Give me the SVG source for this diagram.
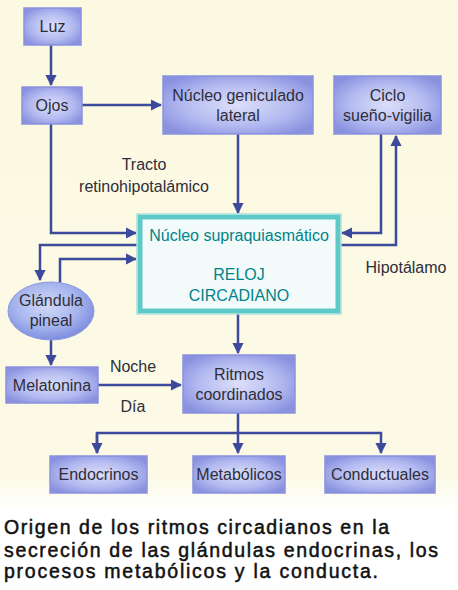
<svg xmlns="http://www.w3.org/2000/svg" width="458" height="590" viewBox="0 0 458 590">
<defs>
<radialGradient id="boxg" cx="50%" cy="50%" r="60%">
<stop offset="0" stop-color="#dcdff9"/>
<stop offset="0.6" stop-color="#b4baf0"/>
<stop offset="1" stop-color="#8a92e0"/>
</radialGradient>
<radialGradient id="ellg" cx="45%" cy="40%" r="60%">
<stop offset="0" stop-color="#d2daf8"/>
<stop offset="0.6" stop-color="#a8b6ee"/>
<stop offset="1" stop-color="#7e8ede"/>
</radialGradient>
<linearGradient id="bgg" x1="0" y1="0" x2="0" y2="1">
<stop offset="0" stop-color="#fcf9e2"/>
<stop offset="0.93" stop-color="#fcfae6"/>
<stop offset="1" stop-color="#ffffff"/>
</linearGradient>
<marker id="ah" viewBox="0 0 10 10" refX="9" refY="5" markerWidth="4.5" markerHeight="4.5" orient="auto" markerUnits="strokeWidth">
<path d="M0,0 L10,5 L0,10 z" fill="#3c4a9c"/>
</marker>
</defs>
<style>
.box{fill:url(#boxg);stroke:#8a92de;stroke-width:1.5}
.t{font-family:"Liberation Sans",Arial,sans-serif;font-size:16px;fill:#2e2e3a;text-anchor:middle}
.lbl{font-family:"Liberation Sans",Arial,sans-serif;font-size:16px;fill:#2e2e3a;text-anchor:middle}
.teal{font-family:"Liberation Sans",Arial,sans-serif;font-size:16px;fill:#00838a;text-anchor:middle}
.c{fill:none;stroke:#3c4a9c;stroke-width:2.5}
.cap{font-family:"Liberation Sans",Arial,sans-serif;font-size:19.5px;fill:#111;stroke:#111;stroke-width:0.5}
</style>
<rect x="0" y="0" width="458" height="590" fill="#ffffff"/>
<rect x="0" y="0" width="458" height="512" fill="url(#bgg)"/>

<g id="connectors">
<path class="c" d="M51,45 V85" marker-end="url(#ah)"/>
<path class="c" d="M82,105 H161" marker-end="url(#ah)"/>
<path class="c" d="M51,124 V233 H136" marker-end="url(#ah)"/>
<path class="c" d="M238,134 V213" marker-end="url(#ah)"/>
<path class="c" d="M381,134 V233 H342" marker-end="url(#ah)"/>
<path class="c" d="M340,245 H396 V136" marker-end="url(#ah)"/>
<path class="c" d="M138,245 H40 V280" marker-end="url(#ah)"/>
<path class="c" d="M60,283 V259 H136" marker-end="url(#ah)"/>
<path class="c" d="M51,340 V365" marker-end="url(#ah)"/>
<path class="c" d="M98,385 H181" marker-end="url(#ah)"/>
<path class="c" d="M238,313 V353" marker-end="url(#ah)"/>
<path class="c" d="M238,413 V453" marker-end="url(#ah)"/>
<path class="c" d="M97,453 V433 H381 V453" marker-end="url(#ah)"/>
<path class="c" d="M97,433 V453" marker-end="url(#ah)"/>
</g>

<g id="luz">
<rect class="box" x="24" y="8" width="57" height="37"/>
<text class="t" x="52.5" y="32">Luz</text>
</g>
<g id="ojos">
<rect class="box" x="22" y="87" width="60" height="37"/>
<text class="t" x="52" y="111">Ojos</text>
</g>
<g id="geniculado">
<rect class="box" x="163" y="76" width="150" height="58"/>
<text class="t" x="238" y="101">Núcleo geniculado</text>
<text class="t" x="238" y="121">lateral</text>
</g>
<g id="ciclo">
<rect class="box" x="334" y="76" width="107" height="58"/>
<text class="t" x="387.5" y="101">Ciclo</text>
<text class="t" x="387.5" y="121">sueño-vigilia</text>
</g>
<g id="tracto">
<text class="lbl" x="144" y="170">Tracto</text>
<text class="lbl" x="144" y="192">retinohipotalámico</text>
</g>
<g id="scn">
<rect x="140" y="217" width="198" height="94" fill="#f2fbfa" stroke="#5ec9c6" stroke-width="5"/>
<rect x="137" y="214" width="204" height="100" fill="none" stroke="#a8e2df" stroke-width="1.5"/>
<text class="teal" x="239" y="241">Núcleo supraquiasmático</text>
<text class="teal" x="239" y="280">RELOJ</text>
<text class="teal" x="239" y="301">CIRCADIANO</text>
</g>
<g id="hipotalamo">
<text class="lbl" x="406" y="273">Hipotálamo</text>
</g>
<g id="pineal">
<ellipse cx="51" cy="311" rx="43" ry="29" fill="url(#ellg)" stroke="#8a9ae0" stroke-width="1"/>
<text class="t" x="51" y="306">Glándula</text>
<text class="t" x="51" y="326">pineal</text>
</g>
<g id="melatonina">
<rect class="box" x="6" y="367" width="92" height="36"/>
<text class="t" x="52" y="391">Melatonina</text>
</g>
<g id="noche"><text class="lbl" x="133" y="372">Noche</text></g>
<g id="dia"><text class="lbl" x="133" y="412">Día</text></g>
<g id="ritmos">
<rect class="box" x="183" y="355" width="112" height="58"/>
<text class="t" x="239" y="380">Ritmos</text>
<text class="t" x="239" y="400">coordinados</text>
</g>
<g id="endocrinos">
<rect class="box" x="50" y="456" width="97" height="37"/>
<text class="t" x="98.5" y="480">Endocrinos</text>
</g>
<g id="metabolicos">
<rect class="box" x="193" y="456" width="92" height="37"/>
<text class="t" x="239" y="480">Metabólicos</text>
</g>
<g id="conductuales">
<rect class="box" x="325" y="456" width="110" height="37"/>
<text class="t" x="380" y="480">Conductuales</text>
</g>
<g id="caption">
<text class="cap" x="4" y="534" textLength="385" lengthAdjust="spacing">Origen de los ritmos circadianos en la</text>
<text class="cap" x="4" y="557" textLength="434" lengthAdjust="spacing">secreción de las glándulas endocrinas, los</text>
<text class="cap" x="4" y="578" textLength="374" lengthAdjust="spacing">procesos metabólicos y la conducta.</text>
</g>
</svg>
